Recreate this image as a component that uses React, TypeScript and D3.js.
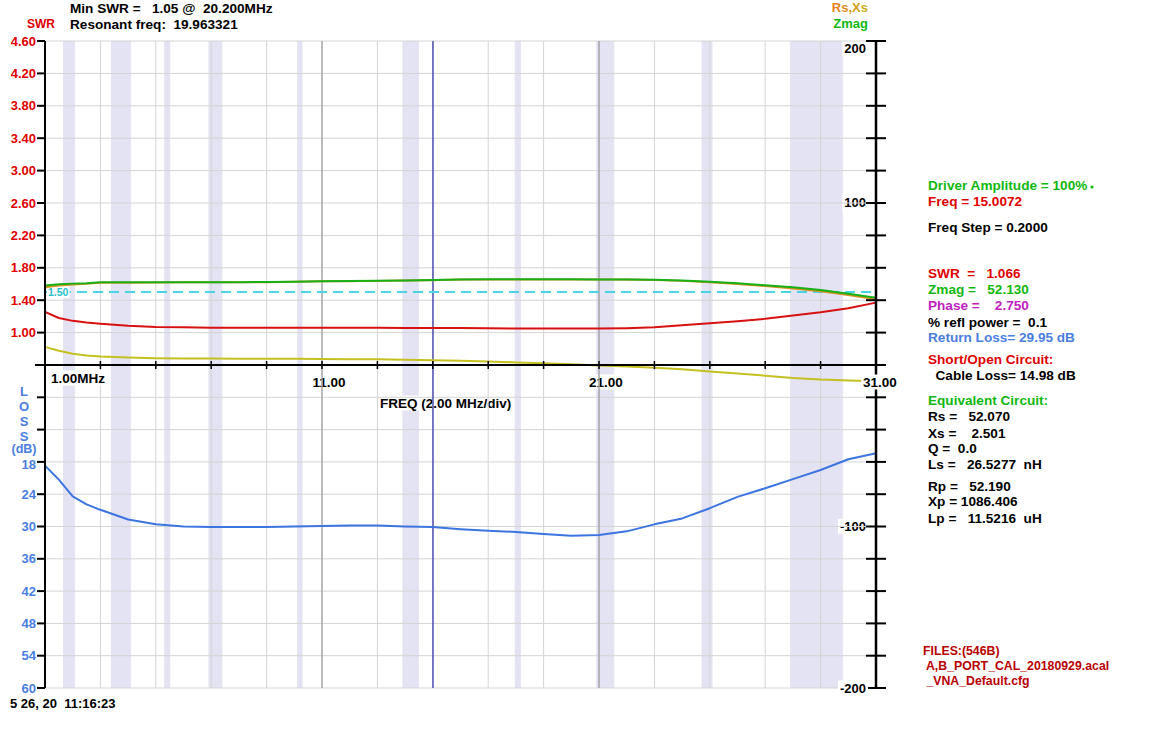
import { useEffect, useRef } from 'react';
import * as d3 from 'd3';

// sweep frequencies, MHz
const freqs = [1, 1.5, 2, 2.5, 3, 4, 5, 6, 7, 8, 9, 10, 11, 12, 13, 14, 15, 16, 17, 18, 19, 20, 21, 22, 23, 24, 25, 26, 27, 28, 29, 30, 31];
const swr = [1.255, 1.18, 1.145, 1.125, 1.11, 1.085, 1.07, 1.065, 1.06, 1.06, 1.06, 1.06, 1.06, 1.06, 1.06, 1.058, 1.058, 1.058, 1.055, 1.05, 1.05, 1.05, 1.05, 1.055, 1.065, 1.09, 1.115, 1.14, 1.17, 1.21, 1.25, 1.3, 1.37];
const zmag = [48.8, 49.6, 50.0, 50.3, 50.9, 50.9, 50.9, 50.9, 50.9, 50.9, 51.0, 51.2, 51.5, 51.6, 51.8, 52.0, 52.2, 52.6, 52.7, 52.7, 52.7, 52.7, 52.6, 52.6, 52.4, 51.9, 51.1, 50.2, 49.0, 47.7, 46.1, 43.7, 41.2];
const rs = [47.8, 48.9, 49.5, 49.9, 50.5, 50.6, 50.7, 50.8, 50.8, 50.8, 50.9, 51.1, 51.4, 51.5, 51.7, 51.9, 52.1, 52.5, 52.6, 52.6, 52.6, 52.6, 52.5, 52.5, 52.3, 51.7, 50.8, 49.8, 48.5, 47.0, 45.3, 43.0, 40.4];
const xs = [10.9, 8.5, 6.6, 5.6, 5.0, 4.3, 3.9, 3.7, 3.7, 3.6, 3.6, 3.5, 3.4, 3.3, 3.2, 3.0, 2.6, 2.3, 1.9, 1.3, 0.7, 0.1, -0.6, -1.2, -2.0, -3.0, -4.4, -5.6, -6.9, -8.3, -9.3, -9.9, -10.3];
const returnLoss = [18.7, 21.3, 24.4, 25.9, 26.9, 28.7, 29.6, 30.0, 30.1, 30.1, 30.1, 30.0, 29.9, 29.8, 29.8, 30.0, 30.1, 30.5, 30.8, 31.0, 31.4, 31.7, 31.6, 30.9, 29.6, 28.5, 26.6, 24.5, 22.9, 21.2, 19.5, 17.5, 16.4];

// shaded amateur bands, MHz
const bands: [number, number][] = [
  [1.65, 2.08], [3.38, 4.1], [5.3, 5.52], [6.9, 7.4], [10.1, 10.3],
  [13.9, 14.5], [17.96, 18.18], [20.9, 21.55], [24.7, 25.1], [27.9, 29.8],
];

const swrTicks = [1.0, 1.4, 1.8, 2.2, 2.6, 3.0, 3.4, 3.8, 4.2, 4.6];
const lossTicks = [18, 24, 30, 36, 42, 48, 54, 60];
const ohmTicks = [200, 100, -100, -200];
const freqTicks = [1, 11, 21, 31];
const freqTickLabels = ['1.00MHz', '11.00', '21.00', '31.00'];

const markerFreq = 15.0072;
const swrRef = 1.5;

const headerLines = ['Min SWR =   1.05 @  20.200MHz', 'Resonant freq:  19.963321'];

const RED = '#e00000';
const GREEN = '#10b810';
const BLUE = '#4a7ee0';
const PURPLE = '#c020c0';
const BLACK = '#000';

const readout: [string, string][] = [
  ['Driver Amplitude = 100%', GREEN],
  ['Freq = 15.0072', RED],
  ['Freq Step = 0.2000', BLACK],
  ['SWR  =   1.066', RED],
  ['Zmag =   52.130', GREEN],
  ['Phase =    2.750', PURPLE],
  ['% refl power =  0.1', BLACK],
  ['Return Loss= 29.95 dB', BLUE],
  ['Short/Open Circuit:', RED],
  ['  Cable Loss= 14.98 dB', BLACK],
  ['Equivalent Circuit:', GREEN],
  ['Rs =   52.070', BLACK],
  ['Xs =    2.501', BLACK],
  ['Q =  0.0', BLACK],
  ['Ls =   26.5277  nH', BLACK],
  ['Rp =   52.190', BLACK],
  ['Xp = 1086.406', BLACK],
  ['Lp =   11.5216  uH', BLACK],
];
const readoutY = [185, 201, 227, 273, 289, 305, 322, 337, 359, 375, 400, 416, 433, 448, 464, 486, 501, 518];

const fileLines = ['FILES:(546B)', ' A,B_PORT_CAL_20180929.acal', ' _VNA_Default.cfg'];
const timestamp = '5 26, 20  11:16:23';

const FONT = '"Liberation Sans", Arial, Helvetica, sans-serif';
const W = 1150;
const H = 750;
const L = 45;
const R = 876;
const T = 41;
const B = 688;
const MID = 365;

export default function App() {
  const svgRef = useRef<SVGSVGElement>(null);

  useEffect(() => {
    if (!svgRef.current) return;
    const svg = d3.select(svgRef.current);
    svg.selectAll('*').remove();

    const x = d3.scaleLinear().domain([1, 31]).range([L, R]);
    const ySwr = d3.scaleLinear().domain([0.6, 4.6]).range([MID, T]);
    const yLoss = d3.scaleLinear().domain([0, 60]).range([MID, B]);
    const yOhm = d3.scaleLinear().domain([-200, 200]).range([B, T]);

    const g = svg.append('g').attr('font-family', FONT).attr('font-weight', 'bold');

    const addText = (tx: number, ty: number, str: string, color: string, size = 13, anchor = 'start') =>
      g.append('text')
        .attr('x', tx)
        .attr('y', ty)
        .attr('fill', color)
        .attr('font-size', size)
        .attr('text-anchor', anchor)
        .attr('dominant-baseline', 'central')
        .style('white-space', 'pre')
        .text(str);

    const withBg = (t: any, pad = 1) => {
      const b = t.node().getBBox();
      g.insert('rect', () => t.node())
        .attr('x', b.x - pad)
        .attr('y', b.y)
        .attr('width', b.width + pad * 2)
        .attr('height', b.height)
        .attr('fill', '#fff');
      return t;
    };

    g.append('rect').attr('width', W).attr('height', H).attr('fill', '#fff');

    // bands
    g.selectAll('rect.band')
      .data(bands)
      .enter().append('rect')
      .attr('class', 'band')
      .attr('x', d => x(d[0]))
      .attr('width', d => x(d[1]) - x(d[0]))
      .attr('y', T)
      .attr('height', B - T)
      .attr('fill', '#e3e3f3');

    // labels sitting under the grid
    freqTicks.forEach((f, i) => {
      if (i === 1 || i === 2) withBg(addText(x(f) + 7, 382, freqTickLabels[i], BLACK, 13.5, 'middle'));
    });
    withBg(addText(380, 403, 'FREQ (2.00 MHz/div)', BLACK, 13.5));
    ohmTicks.forEach(v => {
      if (v === -200) return;
      const ty = v === 200 ? yOhm(v) + 7 : yOhm(v);
      withBg(addText(866, ty, String(v), BLACK, 13, 'end'), 2);
    });

    // grid
    const hLines = [...d3.range(0.6, 4.61, 0.4).map(v => ySwr(v)), ...d3.range(6, 60.1, 6).map(v => yLoss(v))];
    g.selectAll('line.hgrid')
      .data(hLines)
      .enter().append('line')
      .attr('class', 'hgrid')
      .attr('x1', L).attr('x2', R)
      .attr('y1', d => d).attr('y2', d => d)
      .attr('stroke', '#d4d4d4')
      .attr('stroke-width', 1);

    const vGrid = d3.range(3, 31.1, 2);
    g.selectAll('line.vgrid')
      .data(vGrid)
      .enter().append('line')
      .attr('class', 'vgrid')
      .attr('x1', d => x(d)).attr('x2', d => x(d))
      .attr('y1', T).attr('y2', B)
      .attr('stroke', d => (d === 11 || d === 21 ? '#a4a4a4' : '#d4d4d4'))
      .attr('stroke-width', d => (d === 11 || d === 21 ? 1.5 : 1));

    // marker
    g.append('line')
      .attr('x1', x(markerFreq)).attr('x2', x(markerFreq))
      .attr('y1', T).attr('y2', B)
      .attr('stroke', '#2a2aa8')
      .attr('stroke-width', 1.2);

    // reference SWR line
    g.append('line')
      .attr('x1', L).attr('x2', R)
      .attr('y1', ySwr(swrRef)).attr('y2', ySwr(swrRef))
      .attr('stroke', '#48d4e4')
      .attr('stroke-width', 2)
      .attr('stroke-dasharray', '10 6');
    withBg(addText(48, ySwr(swrRef), '1.50', '#28c0c8', 10.5), 1);

    // traces
    const trace = (vals: number[], y: d3.ScaleLinear<number, number>, color: string, w = 2) => {
      const line = d3.line<number>()
        .x((_, i) => x(freqs[i]))
        .y(d => y(d));
      g.append('path')
        .attr('d', line(vals))
        .attr('fill', 'none')
        .attr('stroke', color)
        .attr('stroke-width', w)
        .attr('stroke-linejoin', 'round');
    };
    trace(returnLoss, yLoss, '#3c74e0');
    trace(xs, yOhm, '#c4c020');
    trace(rs, yOhm, '#d89020');
    trace(zmag, yOhm, '#18b018');
    trace(swr, ySwr, '#d81010');

    // axes
    g.append('line').attr('x1', L).attr('x2', L).attr('y1', T).attr('y2', B).attr('stroke', BLACK).attr('stroke-width', 2);
    g.append('line').attr('x1', R).attr('x2', R).attr('y1', T).attr('y2', B).attr('stroke', BLACK).attr('stroke-width', 2.5);
    g.append('line').attr('x1', 35).attr('x2', 885).attr('y1', MID).attr('y2', MID).attr('stroke', BLACK).attr('stroke-width', 2);

    const allY = [...hLines, MID];
    g.selectAll('line.ltick')
      .data(allY)
      .enter().append('line')
      .attr('class', 'ltick')
      .attr('x1', 37).attr('x2', L)
      .attr('y1', d => d).attr('y2', d => d)
      .attr('stroke', BLACK).attr('stroke-width', 2);
    g.selectAll('line.rtick')
      .data(allY)
      .enter().append('line')
      .attr('class', 'rtick')
      .attr('x1', 866).attr('x2', 886)
      .attr('y1', d => d).attr('y2', d => d)
      .attr('stroke', BLACK).attr('stroke-width', 2);
    g.selectAll('line.mtick')
      .data(vGrid)
      .enter().append('line')
      .attr('class', 'mtick')
      .attr('x1', d => x(d)).attr('x2', d => x(d))
      .attr('y1', MID - 4).attr('y2', MID + 4)
      .attr('stroke', BLACK).attr('stroke-width', 1.5);

    // labels on top
    withBg(addText(51, 378, freqTickLabels[0], BLACK, 13.5), 2);
    withBg(addText(x(freqTicks[3]) + 4, 382, freqTickLabels[3], BLACK, 13.5, 'middle'), 2);
    withBg(addText(866, yOhm(-200), '-200', BLACK, 13, 'end'), 2);

    swrTicks.forEach(v => addText(36, ySwr(v), v.toFixed(2), RED, 13, 'end'));
    lossTicks.forEach(v => addText(36, yLoss(v) + (v === 18 ? 3 : 0), String(v), BLUE, 13, 'end'));

    ['L', 'O', 'S', 'S'].forEach((c, i) => addText(24, 391 + i * 15, c, BLUE, 13, 'middle'));
    withBg(addText(24, 449, '(dB)', BLUE, 12.5, 'middle'), 1);

    addText(27, 24, 'SWR', RED, 12);
    headerLines.forEach((s, i) => addText(70, 8 + i * 16, s, BLACK, 13.6));

    // Rs,Xs legend
    const grad = svg.append('defs').append('linearGradient').attr('id', 'rsxs');
    grad.append('stop').attr('offset', '0%').attr('stop-color', '#e87a20');
    grad.append('stop').attr('offset', '100%').attr('stop-color', '#c8b020');
    addText(868, 7, 'Rs,Xs', 'url(#rsxs)', 13, 'end');
    addText(868, 23, 'Zmag', GREEN, 13, 'end');

    readout.forEach(([s, c], i) => addText(928, readoutY[i], s, c, 13.6));
    g.append('circle').attr('cx', 1092).attr('cy', 187).attr('r', 1.6).attr('fill', GREEN);

    fileLines.forEach((s, i) => addText(923, 651 + i * 15, s, '#b80000', 12.3));
    addText(10, 703, timestamp, BLACK, 13);
  }, []);

  return (
    <svg
      ref={svgRef}
      width={W}
      height={H}
      style={{ position: 'absolute', left: 0, top: 0, display: 'block' }}
    />
  );
}
